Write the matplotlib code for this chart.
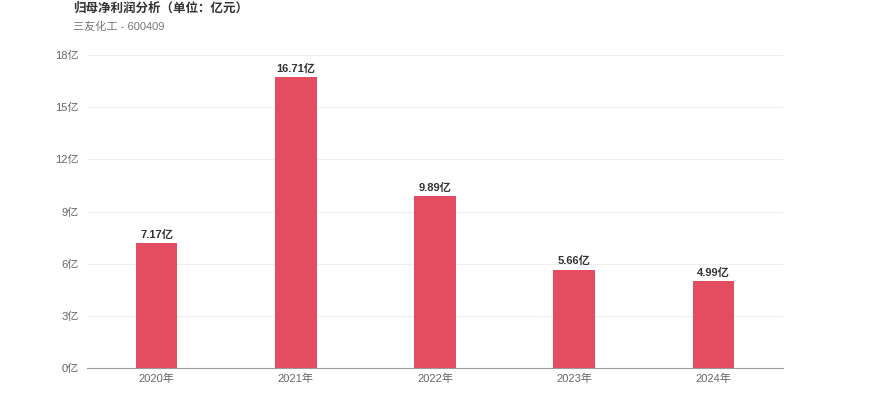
import matplotlib.pyplot as plt

plt.rcParams['font.family'] = ['Liberation Sans', 'Noto Sans CJK SC', 'DejaVu Sans']

years = ["2020年", "2021年", "2022年", "2023年", "2024年"]
profit = [7.17, 16.71, 9.89, 5.66, 4.99]
y_ticks = [0, 3, 6, 9, 12, 15, 18]

fig = plt.figure(figsize=(8.7, 4.17), dpi=100)
ax = fig.add_axes([0.1, 0.1175, 0.8, 0.7505])

x = range(len(years))
ax.bar(x, profit, width=0.3, color="#e34c61", zorder=2)
for i, v in zip(x, profit):
    ax.text(i, v + 0.2, f"{v:.2f}亿", ha="center", va="bottom",
            fontsize=8, fontweight="bold", color="#333333")

ax.set_xlim(-0.5, len(years) - 0.5)
ax.set_ylim(0, 18)
ax.set_xticks(list(x))
ax.set_xticklabels(years)
ax.set_yticks(y_ticks)
ax.set_yticklabels([f"{t}亿" for t in y_ticks])
ax.tick_params(axis="both", length=0, labelsize=8, labelcolor="#666666")
ax.tick_params(axis="x", pad=4)
ax.tick_params(axis="y", pad=6)
ax.grid(axis="y", color="#eeeeee", linewidth=0.8, zorder=0)
for s in ["top", "right", "left"]:
    ax.spines[s].set_visible(False)
ax.spines["bottom"].set_color("#999999")

fig.text(73 / 870, 1 - 9 / 417, "归母净利润分析（单位：亿元）", ha="left", va="center",
         fontsize=9, fontweight="bold", color="#333333")
fig.text(73 / 870, 1 - 27 / 417, "三友化工 - 600409", ha="left", va="center",
         fontsize=8, color="#777777")

fig.savefig("out.png", dpi=100)
